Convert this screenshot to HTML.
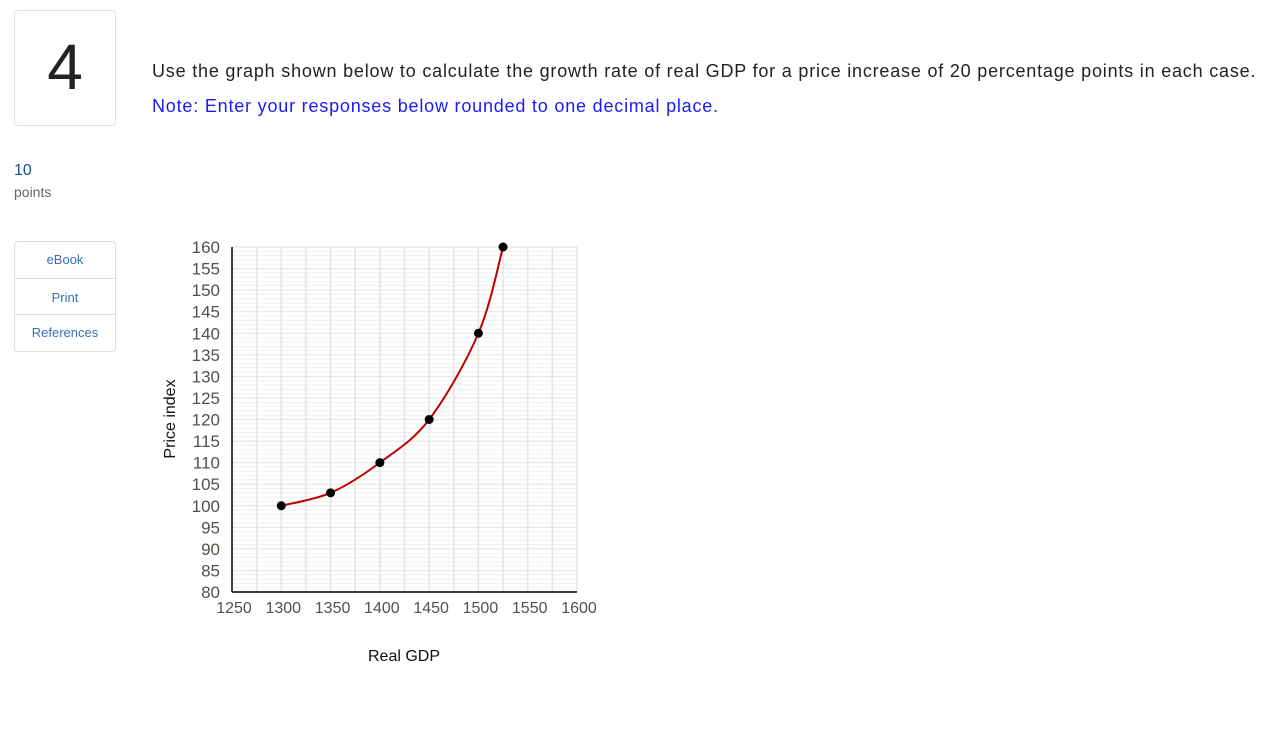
<!DOCTYPE html>
<html><head><meta charset="utf-8"><style>
body{margin:0;width:1282px;height:743px;background:#fff;font-family:"Liberation Sans",sans-serif;position:relative;overflow:hidden}
.abs{position:absolute}
.btn{position:absolute;left:14px;width:102px;border:1px solid #ddd;background:#fff;color:#3b6fb0;font-size:13px;text-align:center;box-sizing:border-box}
</style></head><body>
<div class="abs" style="left:14px;top:10px;width:102px;height:116px;border:1px solid #e2e2e2;border-radius:4px;box-sizing:border-box;text-align:center;font-size:64px;line-height:112px;color:#222">4</div>
<div class="abs" style="left:152px;top:61px;font-size:18px;color:#222;letter-spacing:0.8px;white-space:nowrap">Use the graph shown below to calculate the growth rate of real GDP for a price increase of 20 percentage points in each case.</div>
<div class="abs" style="left:152px;top:96px;font-size:18px;color:#1a1aff;letter-spacing:0.8px;white-space:nowrap">Note: Enter your responses below rounded to one decimal place.</div>
<div class="abs" style="left:14px;top:162px;font-size:16px;color:#1f4e8c">10</div>
<div class="abs" style="left:14px;top:184px;font-size:14px;color:#666">points</div>
<div class="btn" style="top:241px;height:38px;line-height:36px;border-radius:4px 4px 0 0">eBook</div>
<div class="btn" style="top:278px;height:37px;line-height:37px">Print</div>
<div class="btn" style="top:314px;height:38px;line-height:36px;border-radius:0 0 4px 4px">References</div>
<svg class="abs" style="left:0;top:0" width="1282" height="743">
<g id="grid"></g><g id="axes"></g><g id="marks"></g>
</svg>
<script>
const xTicks=[1250,1300,1350,1400,1450,1500,1550,1600];
const yTicks=[80,85,90,95,100,105,110,115,120,125,130,135,140,145,150,155,160];
const gdp=[1300,1350,1400,1450,1500,1525];
const price=[100,103,110,120,140,160];
const X0=232,X1=577,Y0=592,Y1=247;
const sx=v=>X0+(v-1250)/350*(X1-X0);
const sy=v=>Y0-(v-80)/80*(Y0-Y1);
const NS="http://www.w3.org/2000/svg";
function mk(t,a,p){const e=document.createElementNS(NS,t);for(const k in a)e.setAttribute(k,a[k]);p.appendChild(e);return e;}
const G=document.getElementById('grid'),A=document.getElementById('axes'),M=document.getElementById('marks');
for(let v=81;v<=160;v++){const l=mk('line',{x1:X0,x2:X1,y1:sy(v),y2:sy(v),stroke:v%5?'#efefef':'#e2e2e2','stroke-width':1},G);

}
for(let v=1275;v<=1600;v+=25){const l=mk('line',{x1:sx(v),x2:sx(v),y1:Y1,y2:Y0,stroke:'#e4e4e4','stroke-width':1.5},G);

}
const ya=mk('line',{x1:X0,x2:X0,y1:Y1,y2:Y0,stroke:'#000','stroke-width':1.5},A);


const xa=mk('line',{x1:X0,x2:X1,y1:Y0,y2:Y0,stroke:'#000','stroke-width':1.5},A);


yTicks.forEach(v=>{const t=mk('text',{x:X0-12,y:sy(v)+6,'text-anchor':'end','font-size':17,fill:'#55504a','font-family':'Liberation Sans, sans-serif'},A);t.textContent=v;

});
xTicks.forEach(v=>{const t=mk('text',{x:sx(v)+2,y:Y0+21,'text-anchor':'middle','font-size':16,fill:'#55504a','font-family':'Liberation Sans, sans-serif'},A);t.textContent=v;

});
const xt=mk('text',{x:404,y:661,'text-anchor':'middle','font-size':16,fill:'#111','font-family':'Liberation Sans, sans-serif'},A);xt.textContent='Real GDP';


const yt=mk('text',{x:0,y:0,transform:'translate(175,419) rotate(-90)','text-anchor':'middle','font-size':16,fill:'#111','font-family':'Liberation Sans, sans-serif'},A);yt.textContent='Price index';


const P=gdp.map((g,i)=>[sx(g),sy(price[i])]);
let d='M'+P[0][0]+','+P[0][1];
for(let i=0;i<P.length-1;i++){const p0=P[Math.max(0,i-1)],p1=P[i],p2=P[i+1],p3=P[Math.min(P.length-1,i+2)];
d+=` C${p1[0]+(p2[0]-p0[0])/6},${p1[1]+(p2[1]-p0[1])/6} ${p2[0]-(p3[0]-p1[0])/6},${p2[1]-(p3[1]-p1[1])/6} ${p2[0]},${p2[1]}`;}
const c=mk('path',{d:d,fill:'none',stroke:'#c00000','stroke-width':2},M);


P.forEach(p=>{const e=mk('circle',{cx:p[0],cy:p[1],r:4.5,fill:'#000'},M);

});
</script>
</body></html>
